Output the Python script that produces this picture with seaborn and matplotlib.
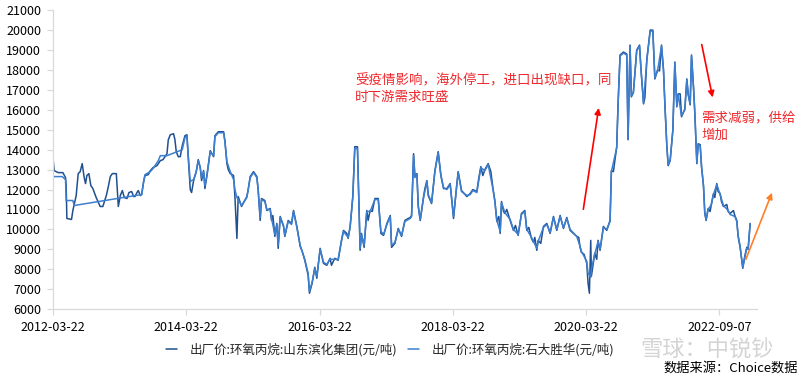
import pandas as pd
import seaborn as sns
import matplotlib.pyplot as plt
import matplotlib.dates as mdates

# 出厂价 (元/吨), time given as decimal years
t_binhua = [
    2012.22, 2012.24, 2012.30, 2012.37, 2012.41, 2012.42, 2012.43, 2012.50, 2012.52, 2012.57,
    2012.60, 2012.63, 2012.66, 2012.69, 2012.71, 2012.73, 2012.76, 2012.79, 2012.82, 2012.87,
    2012.93, 2012.97, 2013.02, 2013.05, 2013.08, 2013.11, 2013.17, 2013.20, 2013.23, 2013.26,
    2013.29, 2013.33, 2013.36, 2013.40, 2013.43, 2013.45, 2013.48, 2013.50, 2013.53, 2013.55,
    2013.58, 2013.60, 2013.65, 2013.68, 2013.72, 2013.78, 2013.83, 2013.87, 2013.93, 2013.95,
    2013.98, 2014.03, 2014.05, 2014.07, 2014.10, 2014.13, 2014.16, 2014.20, 2014.23, 2014.25,
    2014.28, 2014.30, 2014.33, 2014.37, 2014.40, 2014.43, 2014.45, 2014.48, 2014.50, 2014.53,
    2014.58, 2014.63, 2014.65, 2014.70, 2014.78, 2014.80, 2014.83, 2014.85, 2014.88, 2014.91,
    2014.93, 2014.95, 2014.98, 2015.00, 2015.05, 2015.09, 2015.13, 2015.15, 2015.18, 2015.23,
    2015.28, 2015.30, 2015.33, 2015.35, 2015.40, 2015.43, 2015.48, 2015.50, 2015.52, 2015.55,
    2015.58, 2015.60, 2015.63, 2015.68, 2015.70, 2015.75, 2015.80, 2015.83, 2015.88, 2015.93,
    2015.96, 2016.00, 2016.05, 2016.07, 2016.11, 2016.12, 2016.15, 2016.18, 2016.23, 2016.28,
    2016.33, 2016.38, 2016.40, 2016.45, 2016.50, 2016.55, 2016.58, 2016.63, 2016.65, 2016.68,
    2016.72, 2016.75, 2016.79, 2016.83, 2016.85, 2016.89, 2016.93, 2016.95, 2016.98, 2017.01,
    2017.05, 2017.10, 2017.14, 2017.18, 2017.23, 2017.28, 2017.30, 2017.35, 2017.40, 2017.45,
    2017.48, 2017.50, 2017.55, 2017.58, 2017.60, 2017.63, 2017.65, 2017.68, 2017.70, 2017.73,
    2017.78, 2017.80, 2017.83, 2017.85, 2017.90, 2017.95, 2018.00, 2018.04, 2018.08, 2018.13,
    2018.18, 2018.23, 2018.28, 2018.30, 2018.35, 2018.43, 2018.48, 2018.52, 2018.58, 2018.61,
    2018.64, 2018.67, 2018.70, 2018.75, 2018.79, 2018.82, 2018.85, 2018.88, 2018.91, 2018.93,
    2018.95, 2018.98, 2019.00, 2019.03, 2019.08, 2019.13, 2019.16, 2019.20, 2019.25, 2019.30,
    2019.33, 2019.36, 2019.40, 2019.43, 2019.45, 2019.48, 2019.50, 2019.54, 2019.58, 2019.63,
    2019.68, 2019.73, 2019.78, 2019.83, 2019.88, 2019.93, 2019.98, 2020.03, 2020.08, 2020.11,
    2020.13, 2020.15, 2020.19, 2020.23, 2020.25, 2020.27, 2020.29, 2020.30, 2020.35, 2020.38,
    2020.40, 2020.43, 2020.48, 2020.53, 2020.58, 2020.60, 2020.63, 2020.68, 2020.70, 2020.73,
    2020.78, 2020.83, 2020.85, 2020.88, 2020.90, 2020.93, 2020.98, 2021.02, 2021.04, 2021.08,
    2021.10, 2021.13, 2021.18, 2021.22, 2021.25, 2021.29, 2021.32, 2021.35, 2021.38, 2021.40,
    2021.43, 2021.45, 2021.48, 2021.52, 2021.55, 2021.58, 2021.60, 2021.63, 2021.65, 2021.70,
    2021.73, 2021.75, 2021.78, 2021.80, 2021.83, 2021.85, 2021.88, 2021.90, 2021.93, 2021.95,
    2021.98, 2022.00, 2022.02, 2022.05, 2022.08, 2022.10, 2022.13, 2022.15, 2022.18, 2022.20,
    2022.23, 2022.25, 2022.28, 2022.33, 2022.35, 2022.38, 2022.43, 2022.45, 2022.48, 2022.50,
    2022.53, 2022.57, 2022.60, 2022.63, 2022.65, 2022.68,
]
v_binhua = [
    13640, 12950, 12850, 12850, 12600, 12200, 10550, 10500, 10950, 11700,
    12800, 12900, 13300, 12600, 12300, 12700, 12800, 12200, 12050, 11600,
    11150, 11150, 11700, 12150, 12650, 12800, 12800, 11150, 11700, 11950,
    11600, 11550, 11850, 11900, 11650, 11650, 11850, 11950, 11700, 11750,
    12400, 12700, 12750, 12950, 13100, 13200, 13450, 13500, 13800, 14500,
    14750, 14800, 14500, 13900, 13650, 13650, 14200, 14700, 14750, 13600,
    12000, 11850, 12450, 12900, 13500, 13100, 12450, 12950, 12050, 12700,
    13950, 13650, 14700, 14900, 14900, 14450, 13300, 13000, 12800, 12750,
    12700, 11650, 9550, 11650, 11150, 11400, 11650, 12000, 12650, 12900,
    12650, 11950, 10450, 11550, 11450, 10950, 11050, 10450, 10700, 9650,
    10300, 9050, 10650, 10150, 9650, 10450, 10300, 10950, 10150, 9150,
    8900, 8450, 7700, 6800, 7300, 7500, 8100, 7550, 9050, 8300,
    8200, 8550, 8200, 8550, 8450, 9450, 9950, 9800, 9550, 10150,
    11650, 14150, 14150, 8950, 9800, 9100, 10950, 10450, 10950, 10900,
    11550, 11550, 9800, 9700, 10300, 10700, 9100, 9300, 10050, 9650,
    10150, 10450, 10550, 10600, 10700, 13800, 12650, 12800, 11150, 10450,
    11650, 12050, 12450, 11700, 11300, 12950, 13900, 12700, 12050, 12050,
    12300, 10550, 12300, 12900, 11950, 11650, 11800, 12000, 11900, 12600,
    13150, 12700, 13000, 13300, 12900, 12100, 11450, 10400, 10650, 9800,
    11400, 10900, 10800, 11000, 10450, 9950, 10200, 9700, 10800, 10950,
    9950, 10100, 9550, 9350, 9600, 8950, 9450, 9300, 10150, 10300,
    9800, 10650, 9950, 10700, 10050, 10600, 9950, 9800, 9650, 9600,
    9100, 8850, 8750, 8300, 7300, 6800, 9450, 7650, 8800, 8500,
    9450, 8950, 10150, 9950, 10450, 12950, 12900, 14150, 16300, 18750,
    18900, 18800, 14500, 19250, 16650, 16900, 19000, 19250, 18150, 16300,
    16600, 18550, 20000, 20000, 17550, 18000, 17950, 19250, 18000, 16300,
    14150, 13200, 13450, 15000, 18400, 16150, 16800, 16800, 15650, 16050,
    17550, 16800, 16250, 18750, 17150, 15800, 13300, 14300, 14250, 13150,
    12150, 10800, 10450, 11050, 10900, 11300, 11800, 11600, 12300, 11900,
    11800, 11400, 11150, 11250, 10900, 10800, 10950, 10700, 10450, 9650,
    9100, 8050, 8650, 9100, 9000, 10300,
]

t_shida = [
    2012.22, 2012.36, 2012.41, 2012.42, 2012.52, 2012.54, 2013.55, 2013.58, 2013.60, 2013.68,
    2013.72, 2013.80, 2013.83, 2013.93, 2014.16, 2014.20, 2014.23, 2014.25, 2014.28, 2014.30,
    2014.33, 2014.37, 2014.40, 2014.43, 2014.45, 2014.48, 2014.50, 2014.53, 2014.58, 2014.63,
    2014.65, 2014.70, 2014.78, 2014.80, 2014.83, 2014.88, 2014.93, 2014.95, 2014.98, 2015.00,
    2015.05, 2015.13, 2015.18, 2015.23, 2015.28, 2015.30, 2015.33, 2015.35, 2015.40, 2015.43,
    2015.48, 2015.50, 2015.55, 2015.58, 2015.60, 2015.63, 2015.68, 2015.70, 2015.75, 2015.80,
    2015.83, 2015.88, 2015.93, 2016.00, 2016.05, 2016.07, 2016.11, 2016.15, 2016.18, 2016.23,
    2016.28, 2016.33, 2016.38, 2016.45, 2016.50, 2016.55, 2016.58, 2016.65, 2016.68, 2016.72,
    2016.75, 2016.79, 2016.83, 2016.85, 2016.89, 2016.93, 2016.98, 2017.05, 2017.10, 2017.14,
    2017.18, 2017.23, 2017.28, 2017.30, 2017.35, 2017.40, 2017.45, 2017.50, 2017.58, 2017.60,
    2017.63, 2017.65, 2017.68, 2017.70, 2017.73, 2017.78, 2017.83, 2017.85, 2017.90, 2017.95,
    2018.00, 2018.04, 2018.08, 2018.13, 2018.18, 2018.23, 2018.28, 2018.30, 2018.35, 2018.43,
    2018.48, 2018.52, 2018.58, 2018.64, 2018.70, 2018.75, 2018.82, 2018.85, 2018.88, 2018.93,
    2018.95, 2019.00, 2019.08, 2019.13, 2019.20, 2019.25, 2019.30, 2019.33, 2019.40, 2019.43,
    2019.48, 2019.50, 2019.58, 2019.63, 2019.68, 2019.73, 2019.78, 2019.83, 2019.88, 2019.93,
    2019.98, 2020.08, 2020.13, 2020.15, 2020.23, 2020.25, 2020.29, 2020.30, 2020.35, 2020.40,
    2020.43, 2020.48, 2020.53, 2020.58, 2020.60, 2020.68, 2020.70, 2020.73, 2020.78, 2020.83,
    2020.85, 2020.88, 2020.90, 2020.93, 2020.98, 2021.02, 2021.04, 2021.08, 2021.13, 2021.18,
    2021.22, 2021.25, 2021.29, 2021.35, 2021.38, 2021.40, 2021.43, 2021.45, 2021.48, 2021.52,
    2021.55, 2021.58, 2021.60, 2021.65, 2021.70, 2021.73, 2021.75, 2021.78, 2021.80, 2021.83,
    2021.85, 2021.88, 2021.90, 2021.93, 2021.95, 2021.98, 2022.00, 2022.02, 2022.05, 2022.10,
    2022.13, 2022.18, 2022.23, 2022.28, 2022.35, 2022.38, 2022.45, 2022.48, 2022.50, 2022.53,
    2022.57, 2022.60, 2022.63, 2022.65, 2022.68,
]
v_shida = [
    12650, 12650, 12500, 11450, 11450, 11200, 11750, 12400, 12750, 12900,
    13050, 13450, 13700, 13700, 14000, 14600, 14700, 13700, 12400, 12450,
    12500, 12900, 13450, 13100, 12600, 12900, 12200, 12700, 13900, 13700,
    14650, 14850, 14850, 14400, 13400, 12900, 12500, 12000, 11600, 11500,
    11200, 11600, 12600, 12850, 12600, 12000, 10600, 11500, 11400, 11000,
    11000, 10550, 9750, 10250, 9200, 10600, 10200, 9700, 10400, 10250,
    10900, 10100, 9200, 8500, 7800, 6900, 7350, 8050, 7650, 9000,
    8350, 8250, 8500, 8500, 8500, 9400, 9900, 9600, 10100, 11600,
    14050, 14050, 9050, 9750, 9200, 10900, 10900, 11500, 11500, 9900,
    9750, 10250, 10650, 9200, 9350, 10000, 9700, 10400, 10550, 10650,
    13700, 12600, 12750, 11200, 10500, 11600, 12400, 11750, 11350, 12900,
    13850, 12750, 12100, 12000, 12250, 10650, 12250, 12850, 11900, 11700,
    11750, 11950, 11850, 13100, 12950, 13250, 12050, 11400, 10450, 9900,
    11350, 10850, 10500, 10000, 9750, 10750, 10900, 10000, 9600, 9400,
    9050, 9400, 10100, 10250, 9850, 10600, 10000, 10650, 10100, 10550,
    10000, 9650, 9150, 8900, 8400, 7800, 7600, 8000, 8750, 9400,
    9000, 10100, 10000, 10400, 12900, 14100, 16250, 18700, 18850, 18750,
    14600, 19200, 16700, 16850, 18950, 19200, 18100, 16350, 18500, 19950,
    19950, 17600, 17950, 19200, 17950, 16350, 14200, 13250, 13500, 14950,
    18350, 16200, 16750, 15700, 16000, 17500, 16750, 16300, 18700, 17100,
    15850, 13350, 14250, 14200, 13200, 12200, 10850, 10500, 11000, 11250,
    11750, 12250, 11750, 11200, 10950, 10750, 10650, 10400, 9700, 9150,
    8100, 8600, 9050, 9000, 10250,
]

series_names = ["出厂价:环氧丙烷:山东滨化集团(元/吨)", "出厂价:环氧丙烷:石大胜华(元/吨)"]
series_colors = ["#21508F", "#3C7FD0"]

tick_dates = ["2012-03-22", "2014-03-22", "2016-03-22", "2018-03-22", "2020-03-22", "2022-03-22"]
tick_labels = ["2012-03-22", "2014-03-22", "2016-03-22", "2018-03-22", "2020-03-22", "2022-09-07"]
y_ticks = list(range(6000, 21001, 1000))

note_1 = "受疫情影响，海外停工，进口出现缺口，同\n时下游需求旺盛"
note_2 = "需求减弱，供给\n增加"
source = "数据来源：Choice数据"
watermark = "雪球：中锐钞"


def to_date(t):
    y = int(t)
    return pd.Timestamp(year=y, month=1, day=1) + pd.Timedelta(days=(t - y) * 365.25)


df = pd.concat([
    pd.DataFrame({"date": [to_date(t) for t in t_binhua], "price": v_binhua, "series": series_names[0]}),
    pd.DataFrame({"date": [to_date(t) for t in t_shida], "price": v_shida, "series": series_names[1]}),
], ignore_index=True)

sns.set_style("white")
plt.rcParams['font.family'] = ['Noto Sans CJK SC', 'DejaVu Sans']
plt.rcParams['axes.unicode_minus'] = False

fig = plt.figure(figsize=(8, 3.77), dpi=100)
ax = fig.add_axes([0.066, 0.180, 0.880, 0.793])

sns.lineplot(data=df, x="date", y="price", hue="series", hue_order=series_names,
             palette=series_colors, estimator=None, sort=False, linewidth=1.1, ax=ax)

ax.set_xlim(pd.Timestamp("2012-03-21"), pd.Timestamp("2022-10-13"))
ax.set_ylim(6000, 21000)
ax.set_yticks(y_ticks)
ax.set_yticklabels([str(v) for v in y_ticks])
ax.set_xticks([mdates.date2num(pd.Timestamp(d)) for d in tick_dates])
ax.set_xticklabels(tick_labels)
ax.set_xlabel("")
ax.set_ylabel("")

for s in ["top", "right"]:
    ax.spines[s].set_visible(False)
for s in ["left", "bottom"]:
    ax.spines[s].set_color("#D9D9D9")
    ax.spines[s].set_linewidth(0.9)
ax.tick_params(axis="both", length=4, width=0.9, color="#D9D9D9", labelcolor="black",
               labelsize=9, pad=4.5)
ax.tick_params(axis="y", left=True)
ax.tick_params(axis="x", bottom=True)

handles, labels = ax.get_legend_handles_labels()
ax.get_legend().remove()
fig.legend(handles, labels, loc="center", bbox_to_anchor=(0.4875, 0.072), ncol=2,
           frameon=False, fontsize=9, handlelength=0.9, handletextpad=1.0, columnspacing=0.9)

# annotations
red = "#EE2A2E"
fig.text(0.444, 0.806, note_1, color=red, fontsize=9.7, ha="left", va="top", linespacing=1.25)
fig.text(0.877, 0.706, note_2, color=red, fontsize=9.7, ha="left", va="top", linespacing=1.25)
ax.annotate("", xy=(0.776, 0.682), xytext=(0.753, 0.325), xycoords="axes fraction",
            arrowprops=dict(arrowstyle="-|>", color="#FF0000", lw=1.2, mutation_scale=9))
ax.annotate("", xy=(0.938, 0.699), xytext=(0.921, 0.894), xycoords="axes fraction",
            arrowprops=dict(arrowstyle="-|>", color="#FF0000", lw=1.2, mutation_scale=9))
ax.annotate("", xy=(1.023, 0.398), xytext=(0.983, 0.158), xycoords="axes fraction",
            annotation_clip=False,
            arrowprops=dict(arrowstyle="-|>", color="#FF7F27", lw=1.2, mutation_scale=9))

fig.text(0.884, 0.072, watermark, color="#D4D4D4", fontsize=16, ha="center", va="center")
fig.text(0.9975, 0.024, source, color="black", fontsize=9.5, ha="right", va="center")

fig.savefig("out.png", dpi=100)
